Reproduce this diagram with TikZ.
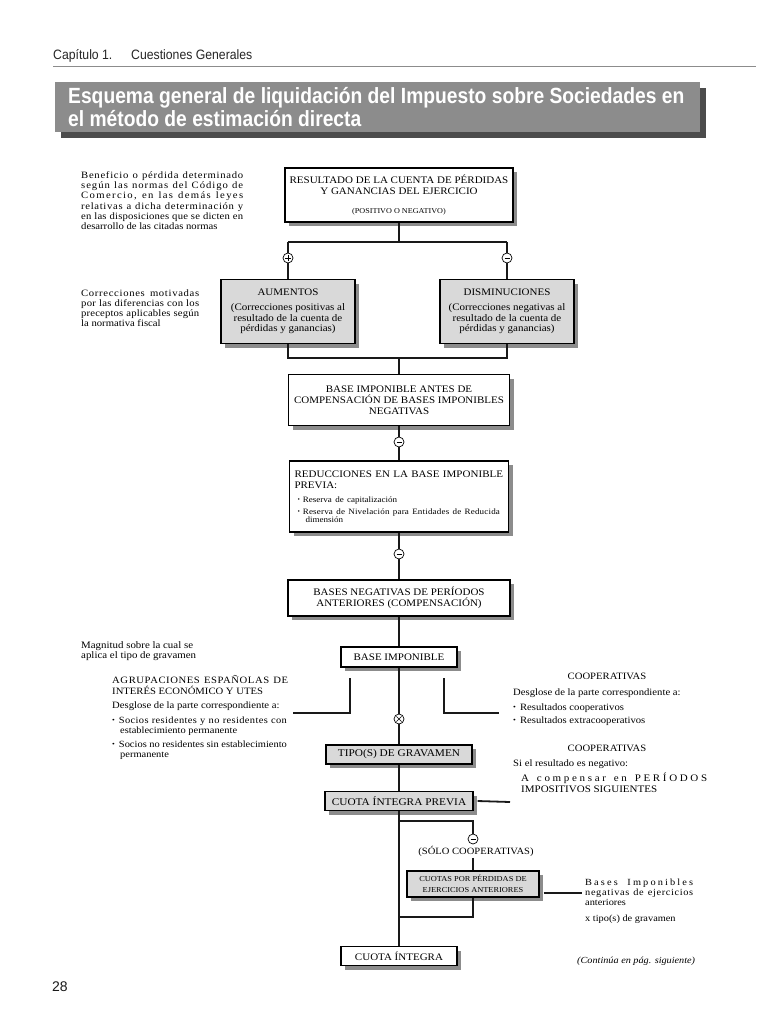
\documentclass[tikz,border=0pt]{standalone}
\usepackage{fontspec}
\usepackage{pdfrender}
\usetikzlibrary{shadows}
\setmainfont{Liberation Serif}[FakeStretch=1.1]
\newfontfamily\hdrfont[FakeStretch=0.9]{Liberation Sans}
\newfontfamily\ttlfont[FakeStretch=0.875]{Liberation Sans}
\newfontfamily\numfont{Liberation Sans}
\newcommand\boxf{\fontsize{10}{11}\selectfont}
\newcommand\notef{\fontsize{9.7}{10.2}\selectfont}
\newcommand\capf{\fontsize{9.7}{10}\selectfont}
\newcommand\smallf{\fontsize{8.2}{9.4}\selectfont}
\newcommand\tinyf{\fontsize{7.4}{11}\selectfont}
\newcommand\tl[1]{\begin{tabular}[t]{@{}l@{}}#1\end{tabular}}
\newcommand\bul{\raisebox{0.6pt}{\scalebox{0.75}{\textbullet}}}
\ExplSyntaxOn
\cs_new:Npn \mycount #1 {\tl_count:n {#1}}
\ExplSyntaxOff
\makeatletter
% letter-spaced justified line: width (pt), text
\newcommand\ljl[2]{\setbox0=\hbox{#2}\dimen0=\wd0\relax
  \pgfmathsetmacro\lsv{max(0,0.92*(#1-\the\dimen0)*100/(\mycount{#2}*\f@size))}%
  {\addfontfeatures{LetterSpace=\lsv}\makebox[#1pt][s]{#2}}}
\makeatother
\begin{document}
\begin{tikzpicture}[x=1pt,y=-1pt,
  conn/.style={line width=1.8pt, draw=black!90},
  box/.style={draw=black, line width=1.1pt, fill=white, inner sep=0pt, align=center, font=\boxf, text=black,
    drop shadow={shadow xshift=4pt, shadow yshift=-4pt, fill=black!45, opacity=1}},
  gbox/.style={box, fill=black!15},
  sgn/.style={circle, draw=black, line width=0.7pt, fill=white, minimum size=10pt, inner sep=0pt},
  signmark/.style={line width=0.6pt},
  txt/.style={inner sep=0pt, anchor=base west, font=\notef, text=black},
]
\useasboundingbox (0,0) rectangle (768,1024);
\fill[white] (0,0) rectangle (768,1024);

% header
\node[inner sep=0pt, anchor=base west, font=\hdrfont\fontsize{13.6}{14}\selectfont, text=black!85] (cap) at (53,60) {Capítulo 1.};
\node[inner sep=0pt, anchor=base west, font=\hdrfont\fontsize{13.6}{14}\selectfont, text=black!85] (cues) at (131,60) {Cuestiones Generales};
\draw[black!45, line width=0.8pt] (53,66) -- (756,66);

% title banner
\fill[black!70] (61,88) rectangle (706,138);
\fill[black!45] (55,82) rectangle (700,132);
\node[inner sep=0pt, anchor=base west, text=white, font=\ttlfont\bfseries\fontsize{22}{22}\selectfont] (title) at (68,104)
 {\tl{\textpdfrender{TextRenderingMode=FillStroke,LineWidth=0.45pt,StrokeColor=black}{Esquema general de liquidación del Impuesto sobre Sociedades en}\\
  \textpdfrender{TextRenderingMode=FillStroke,LineWidth=0.45pt,StrokeColor=black}{el método de estimación directa}}};

% left notes
\node[txt] (n1) at (81,178.5) {\tl{\ljl{162}{Beneficio o pérdida determinado}\\
\ljl{162}{según las normas del Código de}\\
\ljl{162}{Comercio, en las demás leyes}\\
\ljl{162}{relativas a dicha determinación y}\\
\ljl{162}{en las disposiciones que se dicten en}\\
desarrollo de las citadas normas}};
\node[txt, font=\fontsize{9.7}{10}\selectfont] (n2) at (81,296) {\tl{\ljl{118}{Correcciones motivadas}\\
\ljl{118}{por las diferencias con los}\\
\ljl{118}{preceptos aplicables según}\\
la normativa fiscal}};
\node[txt, font=\fontsize{9.9}{10}\selectfont] (n3) at (81,648) {\tl{Magnitud sobre la cual se\\aplica el tipo de gravamen}};

% main boxes
\node[box, minimum width=228pt, minimum height=54pt] (R) at (399,195)
  {RESULTADO DE LA CUENTA DE PÉRDIDAS\\Y GANANCIAS DEL EJERCICIO\\[8pt]{\tinyf (POSITIVO O NEGATIVO)}};
\node[gbox, minimum width=134pt, minimum height=64pt, font=\fontsize{10}{10.6}\selectfont] (A) at (288,311.5)
  {AUMENTOS\\[4pt](Correcciones positivas al\\resultado de la cuenta de\\pérdidas y ganancias)};
\node[gbox, minimum width=134pt, minimum height=64pt, font=\fontsize{10}{10.6}\selectfont] (D) at (507,311.5)
  {DISMINUCIONES\\[4pt](Correcciones negativas al\\resultado de la cuenta de\\pérdidas y ganancias)};
\node[box, minimum width=221pt, minimum height=51pt] (B1) at (399,400)
  {BASE IMPONIBLE ANTES DE\\COMPENSACIÓN DE BASES IMPONIBLES\\NEGATIVAS};
\node[box, minimum width=219pt, minimum height=71pt, align=left, text width=209pt] (Red) at (399,496.5)
  {\ljl{209}{REDUCCIONES EN LA BASE IMPONIBLE}\\PREVIA:\\[3pt]
   {\smallf\hspace*{3pt}\bul\hspace{3pt}Reserva de capitalización}\\[1pt]
   {\smallf\hspace*{3pt}\bul\hspace{3pt}\ljl{199}{Reserva de Nivelación para Entidades de Reducida}}\\[-2.5pt]
   {\smallf\hspace*{11pt}dimensión}};
\node[box, minimum width=222pt, minimum height=36pt] (BN) at (399,598)
  {BASES NEGATIVAS DE PERÍODOS\\ANTERIORES (COMPENSACIÓN)};
\node[box, minimum width=116pt, minimum height=20pt] (BI) at (399,657) {BASE IMPONIBLE};
\node[gbox, minimum width=146pt, minimum height=19pt, font=\fontsize{10.3}{11}\selectfont] (Tipo) at (399,754.5) {TIPO(S) DE GRAVAMEN};
\node[gbox, minimum width=148pt, minimum height=19pt, font=\fontsize{10.3}{11}\selectfont] (CIP) at (399,801) {CUOTA ÍNTEGRA PREVIA};
\node[gbox, minimum width=132pt, minimum height=26pt, font=\fontsize{7.6}{11}\selectfont] (Cuo) at (473,884)
  {CUOTAS POR PÉRDIDAS DE\\EJERCICIOS ANTERIORES};
\node[box, minimum width=116pt, minimum height=19pt] (CI) at (399,956) {CUOTA ÍNTEGRA};

% sign circles
\node[sgn] (s1) at (288,258) {};
\node[sgn] (s2) at (507,258) {};
\node[sgn] (s3) at (399,442) {};
\node[sgn] (s4) at (399,554) {};
\node[sgn] (sx) at (399,719) {};
\node[sgn] (s5) at (473,839) {};
\draw[signmark] ([xshift=-3pt]s1.center) -- ([xshift=3pt]s1.center) ([yshift=-3pt]s1.center) -- ([yshift=3pt]s1.center);
\foreach \s in {s2,s3,s4,s5} \draw[signmark] ([xshift=-2.5pt]\s.center) -- ([xshift=2.5pt]\s.center);
\draw[signmark] ([shift={(-2.6pt,-2.6pt)}]sx.center) -- ([shift={(2.6pt,2.6pt)}]sx.center)
            ([shift={(-2.6pt,2.6pt)}]sx.center) -- ([shift={(2.6pt,-2.6pt)}]sx.center);

% junction coordinates
\coordinate (jT) at (399,242);
\coordinate (jL) at (288,242);
\coordinate (jR) at (507,242);
\coordinate (jA) at (288,358);
\coordinate (jD) at (507,358);
\coordinate (jB) at (399,358);
\coordinate (jC1) at (399,821);
\coordinate (jC2) at (473,821);
\coordinate (jC3) at (473,917);
\coordinate (jC4) at (399,917);
\coordinate (cipR) at (510,802);
\coordinate (cuoR) at (582,893);
\coordinate (bl1) at (350,678);
\coordinate (bl2) at (350,713);
\coordinate (bl3) at (293,713);
\coordinate (br1) at (444,678);
\coordinate (br2) at (444,713);
\coordinate (br3) at (499,713);

% connectors
\draw[conn] (R) -- (jT);
\draw[conn] (jL) -- (jR);
\draw[conn] (jL) -- (s1) -- (A);
\draw[conn] (jR) -- (s2) -- (D);
\draw[conn] (A) -- (jA) -- (jD) -- (D);
\draw[conn] (jB) -- (B1);
\draw[conn] (B1) -- (s3) -- (Red);
\draw[conn] (Red) -- (s4) -- (BN);
\draw[conn] (BN) -- (BI);
\draw[conn] (BI) -- (sx) -- (Tipo);
\draw[conn] (Tipo) -- (CIP);
\draw[conn] (CIP) -- (CI);
\draw[conn] (jC1) -- (jC2) -- (s5);
\node[inner sep=1.5pt, font=\fontsize{9.6}{11}\selectfont, text=black] (solo) at (476,851) {(SÓLO COOPERATIVAS)};
\draw[conn] (solo.south -| s5) -- (Cuo);
\draw[conn] (Cuo) -- (jC3) -- (jC4);
\draw[conn] ([xshift=4pt]CIP.east) -- (cipR);
\draw[conn] ([xshift=4pt,yshift=-9pt]Cuo.east) -- (cuoR);
\draw[conn] (bl1) -- (bl2) -- (bl3);
\draw[conn] (br1) -- (br2) -- (br3);

% side notes lower
\node[txt, font=\capf] (agrT) at (112,683.5) {\tl{\ljl{176}{AGRUPACIONES ESPAÑOLAS DE}\\
INTERÉS ECONÓMICO Y UTES}};
\node[txt] (agrD) at (112,708.5) {Desglose de la parte correspondiente a:};
\node[txt, font=\fontsize{9.5}{10}\selectfont] (agrB) at (112,723.5) {\tl{\bul\hspace{4pt}\ljl{168}{Socios residentes y no residentes con}\\
\hspace*{8pt}establecimiento permanente\\[4pt]
\bul\hspace{4pt}\ljl{168}{Socios no residentes sin establecimiento}\\
\hspace*{8pt}permanente}};

\node[txt, font=\capf, anchor=base] (coopA) at (607,679.5) {COOPERATIVAS};
\node[txt] (coopAd) at (513,695.5) {Desglose de la parte correspondiente a:};
\node[txt, font=\fontsize{9.7}{13}\selectfont] (coopAb) at (513,710.5) {\tl{\bul\hspace{4pt}Resultados cooperativos\\
\bul\hspace{4pt}Resultados extracooperativos}};

\node[txt, font=\capf, anchor=base] (coopB) at (607,751.5) {COOPERATIVAS};
\node[txt] (coopBd) at (513,766.5) {Si el resultado es negativo:};
\node[txt, font=\fontsize{10}{11}\selectfont] (comp) at (521,781.5) {\tl{\ljl{186}{A compensar en PERÍODOS}\\IMPOSITIVOS SIGUIENTES}};

\node[txt, font=\fontsize{9.4}{10.4}\selectfont] (bimp) at (585,885) {\tl{\ljl{108}{Bases Imponibles}\\
\ljl{108}{negativas de ejercicios}\\
anteriores\\[5pt]
x tipo(s) de gravamen}};

\node[txt, font=\fontsize{9.3}{10}\selectfont\itshape] (cont) at (577,963) {(Continúa en pág. siguiente)};
\node[inner sep=0pt, anchor=base west, font=\numfont\fontsize{14}{15}\selectfont, text=black!90] (page) at (52,991) {28};
\end{tikzpicture}
\end{document}
